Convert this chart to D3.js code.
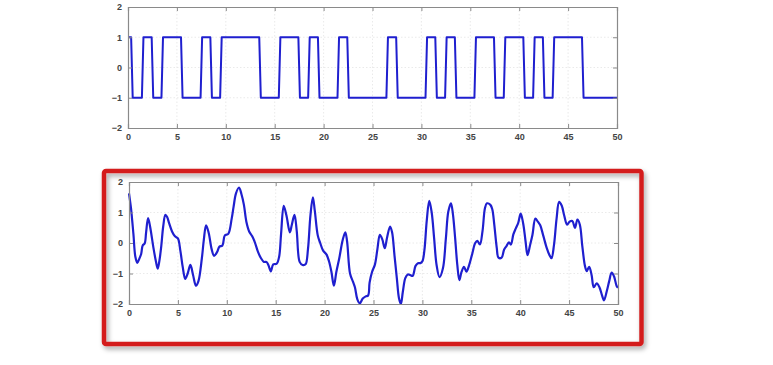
<!DOCTYPE html>
<html><head><meta charset="utf-8">
<script src="https://cdn.jsdelivr.net/npm/d3@7"></script>
<style>html,body{margin:0;padding:0;background:#fff;}svg{display:block;}</style>
</head><body>
<svg id="chart" width="773" height="365"></svg>
<script>
// ---- data ----
const xTicks = [0,5,10,15,20,25,30,35,40,45,50];
const yTicks = [-2,-1,0,1,2];
// square wave: starting level and switching times
const squareStart = 1;
const squareSwitch = [0.4,1.5,2.5,3.5,5.5,7.5,8.5,9.5,13.5,15.5,17.5,18.5,19.5,21.5,22.5,26.5,27.5,30.5,31.5,32.5,33.5,35.5,37.5,38.5,40.5,41.5,42.5,43.5,46.5];
// smooth signal samples
const waveT = [0,0.2,0.45,0.65,0.85,1.05,1.25,1.4,1.6,1.75,1.95,2.15,2.5,2.75,2.93,3.1,3.3,3.5,3.72,3.9,4.1,4.4,4.7,5.0,5.25,5.5,5.75,6.0,6.28,6.55,6.85,7.1,7.45,7.65,7.88,8.15,8.45,8.7,9.0,9.25,9.55,9.8,10.15,10.5,10.7,10.94,11.25,11.5,11.75,12.0,12.3,12.6,12.85,13.2,13.5,13.8,14.05,14.25,14.5,14.75,15.1,15.35,15.55,15.82,16.1,16.45,16.65,16.92,17.15,17.45,17.75,18.05,18.3,18.55,18.8,19.0,19.3,19.55,19.85,20.2,20.45,20.7,20.95,21.2,21.5,21.85,22.12,22.3,22.6,22.9,23.1,23.35,23.6,23.9,24.2,24.45,24.6,24.85,25.15,25.4,25.65,25.9,26.15,26.4,26.7,26.9,27.15,27.4,27.6,27.8,28.0,28.25,28.5,28.75,29.0,29.3,29.55,29.8,30.0,30.2,30.45,30.7,30.95,31.2,31.45,31.75,32.1,32.4,32.65,32.92,33.12,33.35,33.57,33.78,34.0,34.25,34.5,34.8,35.1,35.4,35.62,35.88,36.15,36.4,36.6,36.95,37.15,37.35,37.6,37.78,38.1,38.35,38.6,38.85,39.05,39.3,39.55,39.8,40.05,40.3,40.55,40.75,41.0,41.25,41.55,41.8,42.05,42.35,42.7,43.0,43.2,43.45,43.72,43.98,44.25,44.5,44.8,45.05,45.33,45.6,45.85,46.1,46.35,46.62,46.8,47.05,47.3,47.52,47.82,48.1,48.35,48.57,48.85,49.1,49.35,49.6,49.85,50];
const waveV = [1.63,1.15,0.3,-0.45,-0.65,-0.52,-0.35,-0.08,-0.02,0.35,0.82,0.55,-0.16,-0.6,-0.84,-0.6,-0.1,0.55,0.92,0.85,0.65,0.38,0.22,0.15,-0.25,-0.8,-1.18,-1.0,-0.72,-1.05,-1.4,-1.25,-0.5,0.1,0.58,0.33,-0.2,-0.42,-0.3,-0.12,-0.08,0.25,0.3,0.8,1.2,1.63,1.82,1.6,1.25,0.7,0.37,0.22,0.04,-0.3,-0.5,-0.62,-0.62,-0.72,-0.93,-0.7,-0.68,-0.45,0.3,1.22,0.9,0.35,0.6,0.92,0.4,-0.62,-0.72,-0.7,-0.2,0.9,1.5,1.05,0.25,0.0,-0.25,-0.38,-0.6,-0.95,-1.4,-0.95,-0.5,0.1,0.35,0.05,-1.0,-1.27,-1.45,-1.85,-1.98,-1.82,-1.75,-1.72,-1.3,-0.95,-0.7,-0.2,0.27,0.12,-0.17,0.2,0.54,0.35,-0.42,-1.2,-1.8,-2.0,-1.6,-1.15,-1.03,-1.05,-1.08,-0.75,-0.66,-0.66,-0.6,-0.25,0.75,1.38,1.0,0.15,-0.72,-1.12,-0.83,0.15,1.03,1.3,0.95,0.15,-0.72,-1.22,-0.95,-0.78,-0.94,-0.7,-0.35,0.0,0.07,-0.05,0.4,1.15,1.3,1.25,1.1,0.6,-0.15,-0.48,-0.48,-0.22,-0.1,0.02,-0.05,0.28,0.48,0.66,0.96,0.65,0.05,-0.4,-0.08,0.26,0.8,0.7,0.58,0.25,-0.15,-0.4,-0.5,-0.08,0.8,1.35,1.22,0.9,0.6,0.7,0.72,0.5,0.77,0.6,-0.1,-0.75,-0.92,-0.78,-1.05,-1.45,-1.32,-1.45,-1.7,-1.88,-1.58,-1.25,-0.97,-1.1,-1.4,-1.47];

// ---- drawing ----
const svg = d3.select("#chart");
const lineColor = "#1f1fcf";
const font = "'Liberation Sans', Arial, sans-serif";

// red highlight frame with soft shadow
const defs = svg.append("defs");
const f = defs.append("filter").attr("id","sh").attr("x","-5%").attr("y","-5%").attr("width","115%").attr("height","120%");
f.append("feDropShadow").attr("dx",2).attr("dy",3).attr("stdDeviation",2.5).attr("flood-color","#000").attr("flood-opacity",0.35);
svg.append("rect").attr("x",104).attr("y",171).attr("width",537.5).attr("height",173)
  .attr("rx",2).attr("fill","none").attr("stroke","#d41f1f").attr("stroke-width",4.5).attr("filter","url(#sh)");

function panel(box, drawFn) {
  const x = d3.scaleLinear().domain([0,50]).range([box.l, box.r]);
  const y = d3.scaleLinear().domain([-2,2]).range([box.b, box.t]);
  const g = svg.append("g");
  // grid
  g.append("g").selectAll("line").data(xTicks.slice(1,-1)).join("line")
    .attr("x1",d=>x(d)).attr("x2",d=>x(d)).attr("y1",box.t).attr("y2",box.b)
    .attr("stroke","#e4e4e4").attr("stroke-width",0.8).attr("stroke-dasharray","1.5,2");
  g.append("g").selectAll("line").data(yTicks.slice(1,-1)).join("line")
    .attr("y1",d=>y(d)).attr("y2",d=>y(d)).attr("x1",box.l).attr("x2",box.r)
    .attr("stroke","#e4e4e4").attr("stroke-width",0.8).attr("stroke-dasharray","1.5,2");
  drawFn(g, x, y);
  // axes (inward ticks, MATLAB style)
  const fmt = d3.format("d");
  const ax = [
    g.append("g").attr("transform",`translate(0,${box.b})`).call(d3.axisBottom(x).tickValues(xTicks).tickFormat(fmt).tickSize(-4).tickPadding(6)),
    g.append("g").attr("transform",`translate(0,${box.t})`).call(d3.axisTop(x).tickValues(xTicks).tickSize(-4).tickFormat("")),
    g.append("g").attr("transform",`translate(${box.l},0)`).call(d3.axisLeft(y).tickValues(yTicks).tickFormat(fmt).tickSize(-4).tickPadding(6)),
    g.append("g").attr("transform",`translate(${box.r},0)`).call(d3.axisRight(y).tickValues(yTicks).tickSize(-4).tickFormat(""))
  ];
  ax.forEach(a => {
    a.select(".domain").attr("stroke","#8a8a8a").attr("stroke-width",1.2);
    a.selectAll(".tick line").attr("stroke","#8a8a8a");
    a.selectAll("text").attr("font-family",font).attr("font-size",9).attr("font-weight","bold").attr("fill","#444");
  });
}

// top: square wave
panel({l:128, r:617, t:7, b:128}, (g, x, y) => {
  const pts = [];
  let lvl = squareStart;
  pts.push([0, lvl]);
  const ramp = 0.08;
  squareSwitch.forEach(t => {
    pts.push([t - ramp, lvl]);
    lvl = -lvl;
    pts.push([t + ramp, lvl]);
  });
  pts.push([50, lvl]);
  g.append("path").datum(pts)
    .attr("d", d3.line().x(d=>x(d[0])).y(d=>y(d[1])))
    .attr("fill","none").attr("stroke",lineColor).attr("stroke-width",2).attr("stroke-linejoin","round");
});

// bottom: smooth signal
panel({l:129, r:618, t:182, b:304}, (g, x, y) => {
  const pts = waveT.map((t,i)=>[t, waveV[i]]);
  g.append("path").datum(pts)
    .attr("d", d3.line().curve(d3.curveCatmullRom.alpha(0.5)).x(d=>x(d[0])).y(d=>y(d[1])))
    .attr("fill","none").attr("stroke",lineColor).attr("stroke-width",2.2).attr("stroke-linejoin","round");
});
</script>
</body></html>
